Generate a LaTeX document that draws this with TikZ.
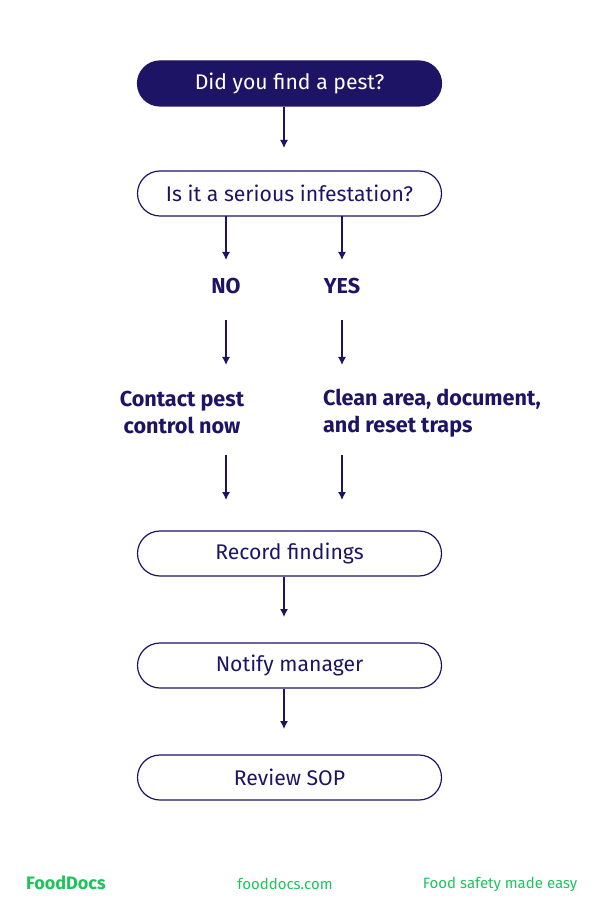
\documentclass[tikz,border=0pt]{standalone}
\usepackage{fontspec}
\setmainfont{Fira Sans}
\usepackage{xcolor}
\usetikzlibrary{positioning}
\usetikzlibrary{arrows.meta}
\definecolor{navy}{HTML}{1E1466}
\definecolor{fdgreen}{HTML}{1DC45A}

\begin{document}
\begin{tikzpicture}[x=0.5pt, y=-0.5pt]

                \tikzset{
                    box/.style={draw=navy, rounded corners=11.25pt, line width=0.6pt,
                        minimum width=152pt, minimum height=22.5pt, text=navy,
                        font=\fontsize{10.6}{12}\selectfont},
                    lbl/.style={text=navy, font=\fontsize{10.8}{13.5}\selectfont\bfseries},
                    foot/.style={text=fdgreen, font=\fontsize{7.5}{9}\selectfont}
                }

                \useasboundingbox (0, 0) rectangle (600, 913);

                % Boxes of the chart
                \begin{scope}
                    \node[box, fill=navy, text=white] (find) at (289.5, 83.5)
                    {Did you find a pest?};
                    \node[box] (serious) at (289.5, 193.5)
                    {Is it a serious infestation?};
                    \node[lbl] (no) at (226, 286) {NO};
                    \node[lbl] (yes) at (342, 286) {YES};
                    \node[lbl, align=center] (contact) at (182, 413)
                    {Contact pest\\control now};
                    \node[lbl, align=left, anchor=west] (clean) at (316, 413)
                    {Clean area, document,\\and reset traps};
                    \node[box] (record) at (289.5, 553.5)
                    {Record findings};
                    \node[box] (notify) at (289.5, 665.5)
                    {Notify manager};
                    \node[box] (review) at (289.5, 777.5)
                    {Review SOP};
                \end{scope}

                % Free ends of the arrows
                \coordinate (a1) at (284, 148);
                \coordinate (b1) at (226, 216); \coordinate (b2) at (226, 260);
                \coordinate (c1) at (342, 216); \coordinate (c2) at (342, 260);
                \coordinate (d1) at (226, 320); \coordinate (d2) at (226, 365);
                \coordinate (e1) at (342, 320); \coordinate (e2) at (342, 365);
                \coordinate (f1) at (226, 455); \coordinate (f2) at (226, 500);
                \coordinate (g1) at (342, 455); \coordinate (g2) at (342, 500);
                \coordinate (h1) at (284, 617);
                \coordinate (i1) at (284, 729);

                \begin{scope}[navy, line width=0.6pt, -{Latex[length=4pt, width=4pt]}]
                    \draw (find.south -| a1) -- (a1);
                    \draw (b1) -- (b2);
                    \draw (c1) -- (c2);
                    \draw (d1) -- (d2);
                    \draw (e1) -- (e2);
                    \draw (f1) -- (f2);
                    \draw (g1) -- (g2);
                    \draw (record.south -| h1) -- (h1);
                    \draw (notify.south -| i1) -- (i1);
                \end{scope}

                % Footer
                \node[foot, font=\fontsize{9}{10}\selectfont\bfseries] (logo) at (66, 883) {FoodDocs};
                \node[foot] (site) at (285, 884) {fooddocs.com};
                \node[foot] (slogan) at (500, 884) {Food safety made easy};

\end{tikzpicture}
\end{document}
